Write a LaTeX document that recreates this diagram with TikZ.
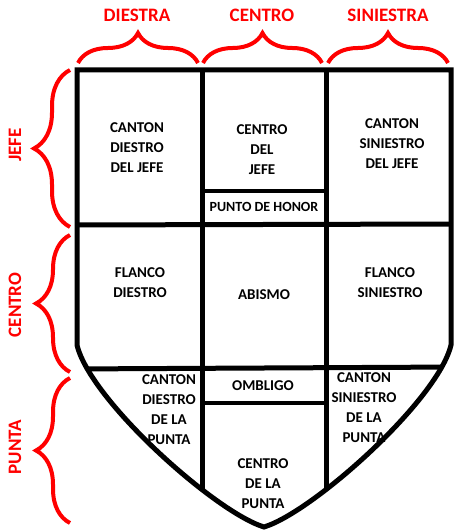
\documentclass[tikz,border=0pt]{standalone}
\usepackage{fontspec}
\setmainfont{Carlito}
\usetikzlibrary{decorations.pathreplacing}
\tikzset{
  br/.style={draw=red, line width=4pt, decorate, decoration={brace, amplitude=#1}},
  lb/.style={text=red, font=\fontsize{19}{19}\selectfont\bfseries},
  tx/.style={align=center, font=\fontsize{15}{20}\selectfont\bfseries},
  ln/.style={line width=5pt}
}

\begin{document}
\begin{tikzpicture}[x=1pt, y=1pt]
  \useasboundingbox (0,0) rectangle (466,532);
  \begin{scope}
    \clip (77,462) -- (451,462) -- (451,187) .. controls (438,132) and (313,20) .. (264,5)
      .. controls (215,20) and (90,132) .. (77,187) -- cycle;
    \draw[ln] (202,470) -- (202,0);
    \draw[ln] (326,470) -- (326,0);
    \draw[ln] (70,307) -- (460,308);
    \draw[ln] (70,163) -- (460,165);
    \draw[line width=4.5pt] (202,341) -- (326,341);
    \draw[line width=4.5pt] (202,129) -- (326,129);
  \end{scope}
  \draw[ln] (77,462) -- (451,462) -- (451,187) .. controls (438,132) and (313,20) .. (264,5)
    .. controls (215,20) and (90,132) .. (77,187) -- cycle;

  \draw[br=30pt] (78,469) -- (198,469);
  \draw[br=30pt] (203,469) -- (322,469);
  \draw[br=30pt] (328,469) -- (448,469);
  \draw[br=36pt] (70,305) -- (70,462);
  \draw[br=34pt] (70,160) -- (70,297);
  \draw[br=34pt] (70,9) -- (70,154);

  \node[lb] (diestra) at (137,517) {DIESTRA};
  \node[lb] (centro) at (262,517) {CENTRO};
  \node[lb] (siniestra) at (388,517) {SINIESTRA};
  \node[lb, rotate=90] (jefe) at (15,387) {JEFE};
  \node[lb, rotate=90] (centrov) at (15,227) {CENTRO};
  \node[lb, rotate=90] (punta) at (15,85) {PUNTA};

  \node[tx] (cdj) at (137,384) {CANTON\\DIESTRO\\DEL JEFE};
  \node[tx] (cj) at (262,382) {CENTRO\\DEL\\JEFE};
  \node[tx] (csj) at (392,388) {CANTON\\SINIESTRO\\DEL JEFE};
  \node[tx, font=\fontsize{14}{16}\selectfont\bfseries] (ph) at (264,325) {PUNTO DE HONOR};
  \node[tx] (fd) at (140,249) {FLANCO\\DIESTRO};
  \node[tx] (ab) at (264,237) {ABISMO};
  \node[tx] (fs) at (390,249) {FLANCO\\SINIESTRO};
  \node[tx] (cdp) at (169,122) {CANTON\\DIESTRO\\DE LA\\PUNTA};
  \node[tx] (om) at (263,146) {OMBLIGO};
  \node[tx] (csp) at (364,124) {CANTON\\SINIESTRO\\DE LA\\PUNTA};
  \node[tx] (cp) at (263,48) {CENTRO\\DE LA\\PUNTA};
\end{tikzpicture}
\end{document}
